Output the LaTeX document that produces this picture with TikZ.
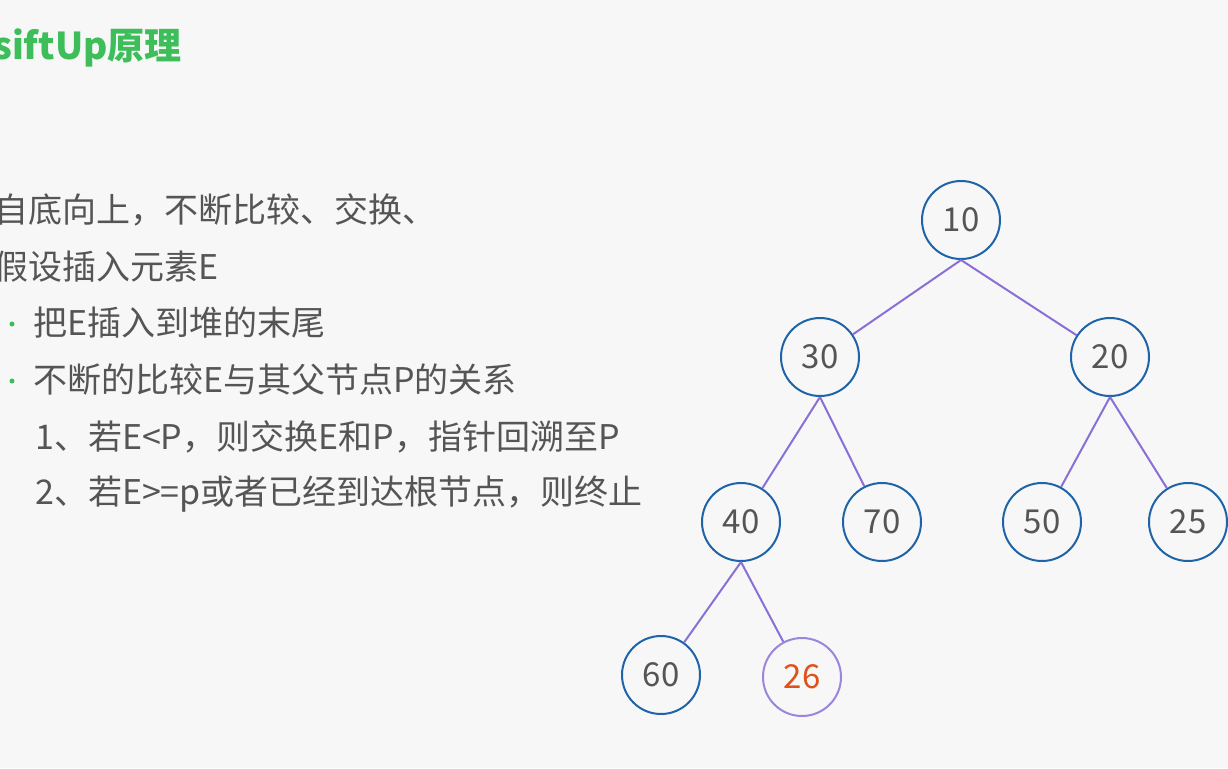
\documentclass[tikz,border=0pt]{standalone}
\usepackage{fontspec}
\setmainfont{Noto Sans CJK SC}
\begin{document}
\begin{tikzpicture}[x=1pt,y=-1pt,
  nd/.style={circle,draw=nblue,line width=2pt,minimum size=78pt,inner sep=0pt,text=tgray,font=\fontsize{33}{33}\selectfont},
  ed/.style={draw=epurple,line width=2pt},
  tx/.style={anchor=west,text=tgray,font=\fontsize{34}{34}\selectfont,inner sep=0pt}]
\definecolor{nblue}{HTML}{1F64A8}
\definecolor{epurple}{HTML}{8A70D6}
\definecolor{tgray}{HTML}{555555}
\definecolor{tgreen}{HTML}{3DBE5A}
\fill[white!97!black] (0,0) rectangle (1228,768);
\useasboundingbox (0,0) rectangle (1228,768);
\node[anchor=west,inner sep=0pt,text=tgreen,font=\fontsize{37}{37}\selectfont\bfseries] (title) at (-7,48) {siftUp原理};
\node[tx] (l1) at (-6,210) {自底向上，不断比较、交换、};
\node[tx] (l2) at (-6,267) {假设插入元素E};
\node[circle,fill=tgreen,inner sep=0pt,minimum size=5pt] (b1) at (12,324) {};
\node[tx] (l3) at (33,323) {把E插入到堆的末尾};
\node[circle,fill=tgreen,inner sep=0pt,minimum size=5pt] (b2) at (12,381) {};
\node[tx] (l4) at (33,380) {不断的比较E与其父节点P的关系};
\node[tx] (l5) at (35,437) {1、若E<P，则交换E和P，指针回溯至P};
\node[tx] (l6) at (35,494) {2、若E>=p或者已经到达根节点，则终止};
\node[nd] (n10) at (961,220) {10};
\node[nd] (n30) at (820,357) {30};
\node[nd] (n20) at (1110,357) {20};
\node[nd] (n40) at (741,522) {40};
\node[nd] (n70) at (882,522) {70};
\node[nd] (n50) at (1042,522) {50};
\node[nd] (n25) at (1188,522) {25};
\node[nd] (n60) at (661,675) {60};
\node[nd,draw=epurple!85,text={rgb,255:red,224;green,80;blue,26}] (n26) at (802,677) {26};
\draw[ed] (n10.south) -- (n30);
\draw[ed] (n10.south) -- (n20);
\draw[ed] (n30.south) -- (n40);
\draw[ed] (n30.south) -- (n70);
\draw[ed] (n20.south) -- (n50);
\draw[ed] (n20.south) -- (n25);
\draw[ed] (n40.south) -- (n60);
\draw[ed] (n40.south) -- (n26);
\end{tikzpicture}
\end{document}
